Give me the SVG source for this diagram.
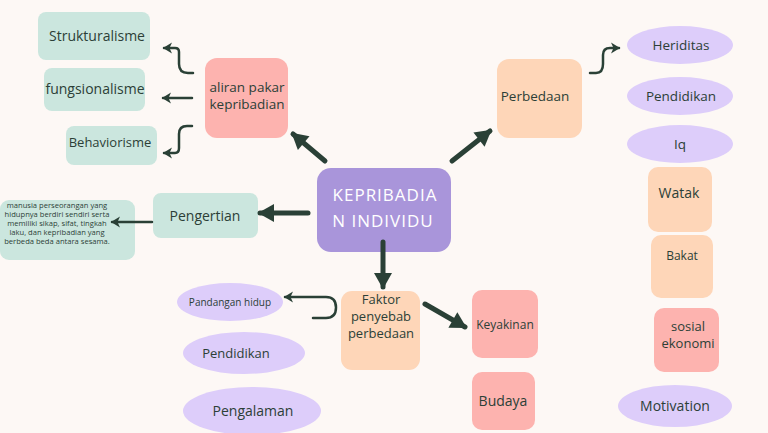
<svg xmlns="http://www.w3.org/2000/svg" width="768" height="433" viewBox="0 0 768 433">
<defs>
<style>
.t{font-family:"Open Sans","DejaVu Sans",sans-serif;fill:#2c3f37;text-anchor:middle}
.g{fill:#cbe6de}
.p{fill:#fdb3af}
.o{fill:#fed6b8}
.v{fill:#ddcdfa}
.c{fill:none;stroke:#2a4036;stroke-linecap:round;stroke-linejoin:round}
.thin{stroke-width:2.5}
.thick{stroke-width:5}
</style>
<marker id="ahs" markerUnits="userSpaceOnUse" markerWidth="14" markerHeight="14" refX="11" refY="7" orient="auto" viewBox="0 0 14 14">
<path d="M3,1.5 L12,7 L3,12.5 L5.5,7 Z" fill="#2a4036"/>
</marker>
<marker id="ahb" markerUnits="userSpaceOnUse" markerWidth="24" markerHeight="24" refX="18" refY="12" orient="auto" viewBox="0 0 24 24">
<path d="M4,3 L20,12 L4,21 Z" fill="#2a4036"/>
</marker>
</defs>
<rect width="768" height="433" fill="#fdf8f5"/>

<g id="center">
<rect x="317" y="168" width="134" height="84" rx="14" fill="#a995da"/>
<text class="t" x="385" y="201" font-size="17" style="fill:#ffffff;letter-spacing:1px">KEPRIBADIA</text>
<text class="t" x="383" y="227" font-size="17" style="fill:#ffffff;letter-spacing:1px">N INDIVIDU</text>
</g>

<g id="aliran">
<rect class="p" x="205" y="58" width="83" height="80" rx="12"/>
<text class="t" x="247" y="92" font-size="13.5">aliran pakar</text>
<text class="t" x="247" y="109" font-size="13.5">kepribadian</text>
</g>
<g id="strukturalisme">
<rect class="g" x="38" y="12" width="112" height="48" rx="8"/>
<text class="t" x="97" y="41" font-size="14">Strukturalisme</text>
</g>
<g id="fungsionalisme">
<rect class="g" x="44" y="68" width="101" height="43" rx="8"/>
<text class="t" x="95" y="94" font-size="14">fungsionalisme</text>
</g>
<g id="behaviorisme">
<rect class="g" x="66" y="126" width="91" height="39" rx="8"/>
<text class="t" x="110" y="147" font-size="13">Behaviorisme</text>
</g>

<g id="pengertian">
<rect class="g" x="153" y="193" width="105" height="45" rx="8"/>
<text class="t" x="205" y="221" font-size="14">Pengertian</text>
</g>
<g id="definisi">
<rect class="g" x="0" y="200" width="135" height="60" rx="9"/>
<text class="t" x="57" y="208" font-size="7.6">manusia perseorangan yang</text>
<text class="t" x="57" y="217" font-size="7.6">hidupnya berdiri sendiri serta</text>
<text class="t" x="57" y="226" font-size="7.6">memiliki sikap, sifat, tingkah</text>
<text class="t" x="57" y="235" font-size="7.6">laku, dan kepribadian yang</text>
<text class="t" x="57" y="244" font-size="7.6">berbeda beda antara sesama.</text>
</g>

<g id="faktor">
<rect class="o" x="341" y="291" width="79" height="79" rx="11"/>
<text class="t" x="381" y="304" font-size="13">Faktor</text>
<text class="t" x="381" y="321" font-size="13">penyebab</text>
<text class="t" x="381" y="338" font-size="13">perbedaan</text>
</g>
<g id="pandangan">
<ellipse class="v" cx="230" cy="302" rx="53" ry="19"/>
<text class="t" x="230" y="306" font-size="10">Pandangan hidup</text>
</g>
<g id="pendidikan1">
<ellipse class="v" cx="244" cy="353" rx="61" ry="21"/>
<text class="t" x="236" y="358" font-size="13">Pendidikan</text>
</g>
<g id="pengalaman">
<ellipse class="v" cx="252" cy="411" rx="69" ry="24"/>
<text class="t" x="253" y="416" font-size="14">Pengalaman</text>
</g>
<g id="keyakinan">
<rect class="p" x="472" y="290" width="66" height="68" rx="10"/>
<text class="t" x="505" y="329" font-size="12">Keyakinan</text>
</g>
<g id="budaya">
<rect class="p" x="472" y="372" width="63" height="58" rx="10"/>
<text class="t" x="503" y="406" font-size="14">Budaya</text>
</g>

<g id="perbedaan">
<rect class="o" x="497" y="59" width="85" height="79" rx="12"/>
<text class="t" x="535" y="101" font-size="13.5">Perbedaan</text>
</g>
<g id="heriditas">
<ellipse class="v" cx="680" cy="45" rx="53" ry="19"/>
<text class="t" x="681" y="50" font-size="13.5">Heriditas</text>
</g>
<g id="pendidikan2">
<ellipse class="v" cx="680" cy="96" rx="53" ry="19"/>
<text class="t" x="681" y="101" font-size="13.5">Pendidikan</text>
</g>
<g id="iq">
<ellipse class="v" cx="680" cy="144" rx="53" ry="19"/>
<text class="t" x="680" y="149" font-size="13.5">Iq</text>
</g>
<g id="watak">
<rect class="o" x="648" y="167" width="64" height="65" rx="10"/>
<text class="t" x="679" y="198" font-size="14">Watak</text>
</g>
<g id="bakat">
<rect class="o" x="651" y="235" width="62" height="63" rx="10"/>
<text class="t" x="682" y="260" font-size="12">Bakat</text>
</g>
<g id="sosial">
<rect class="p" x="654" y="308" width="65" height="64" rx="10"/>
<text class="t" x="688" y="331" font-size="13">sosial</text>
<text class="t" x="688" y="348" font-size="13">ekonomi</text>
</g>
<g id="motivation">
<ellipse class="v" cx="675" cy="406" rx="57" ry="21"/>
<text class="t" x="675" y="411" font-size="14">Motivation</text>
</g>

<g id="connectors">
<path class="c thin" d="M193,73 H188 Q179,73 179,64 V52 Q179,48 175,48 H164" marker-end="url(#ahs)"/>
<path class="c thin" d="M192,98 H163" marker-end="url(#ahs)"/>
<path class="c thin" d="M192,126 H187 Q179,126 179,134 V148 Q179,153 175,153 H164" marker-end="url(#ahs)"/>
<path class="c thin" d="M152,222 H112" marker-end="url(#ahs)"/>
<path class="c thin" d="M313,318 H326 Q336,318 336,307.5 Q336,297 326,297 H285" marker-end="url(#ahs)"/>
<path class="c thin" d="M590,73 H596 Q603,73 603,64 V55 Q603,48 610,48 H619" marker-end="url(#ahs)"/>
<path class="c thick" d="M325,161 L293,134" marker-end="url(#ahb)"/>
<path class="c thick" d="M452,161 L490,131" marker-end="url(#ahb)"/>
<path class="c thick" d="M308,213 L260,213" marker-end="url(#ahb)"/>
<path class="c thick" d="M383,242 L383,287" marker-end="url(#ahb)"/>
<path class="c thick" d="M425,304 L465,327" marker-end="url(#ahb)"/>
</g>
</svg>
